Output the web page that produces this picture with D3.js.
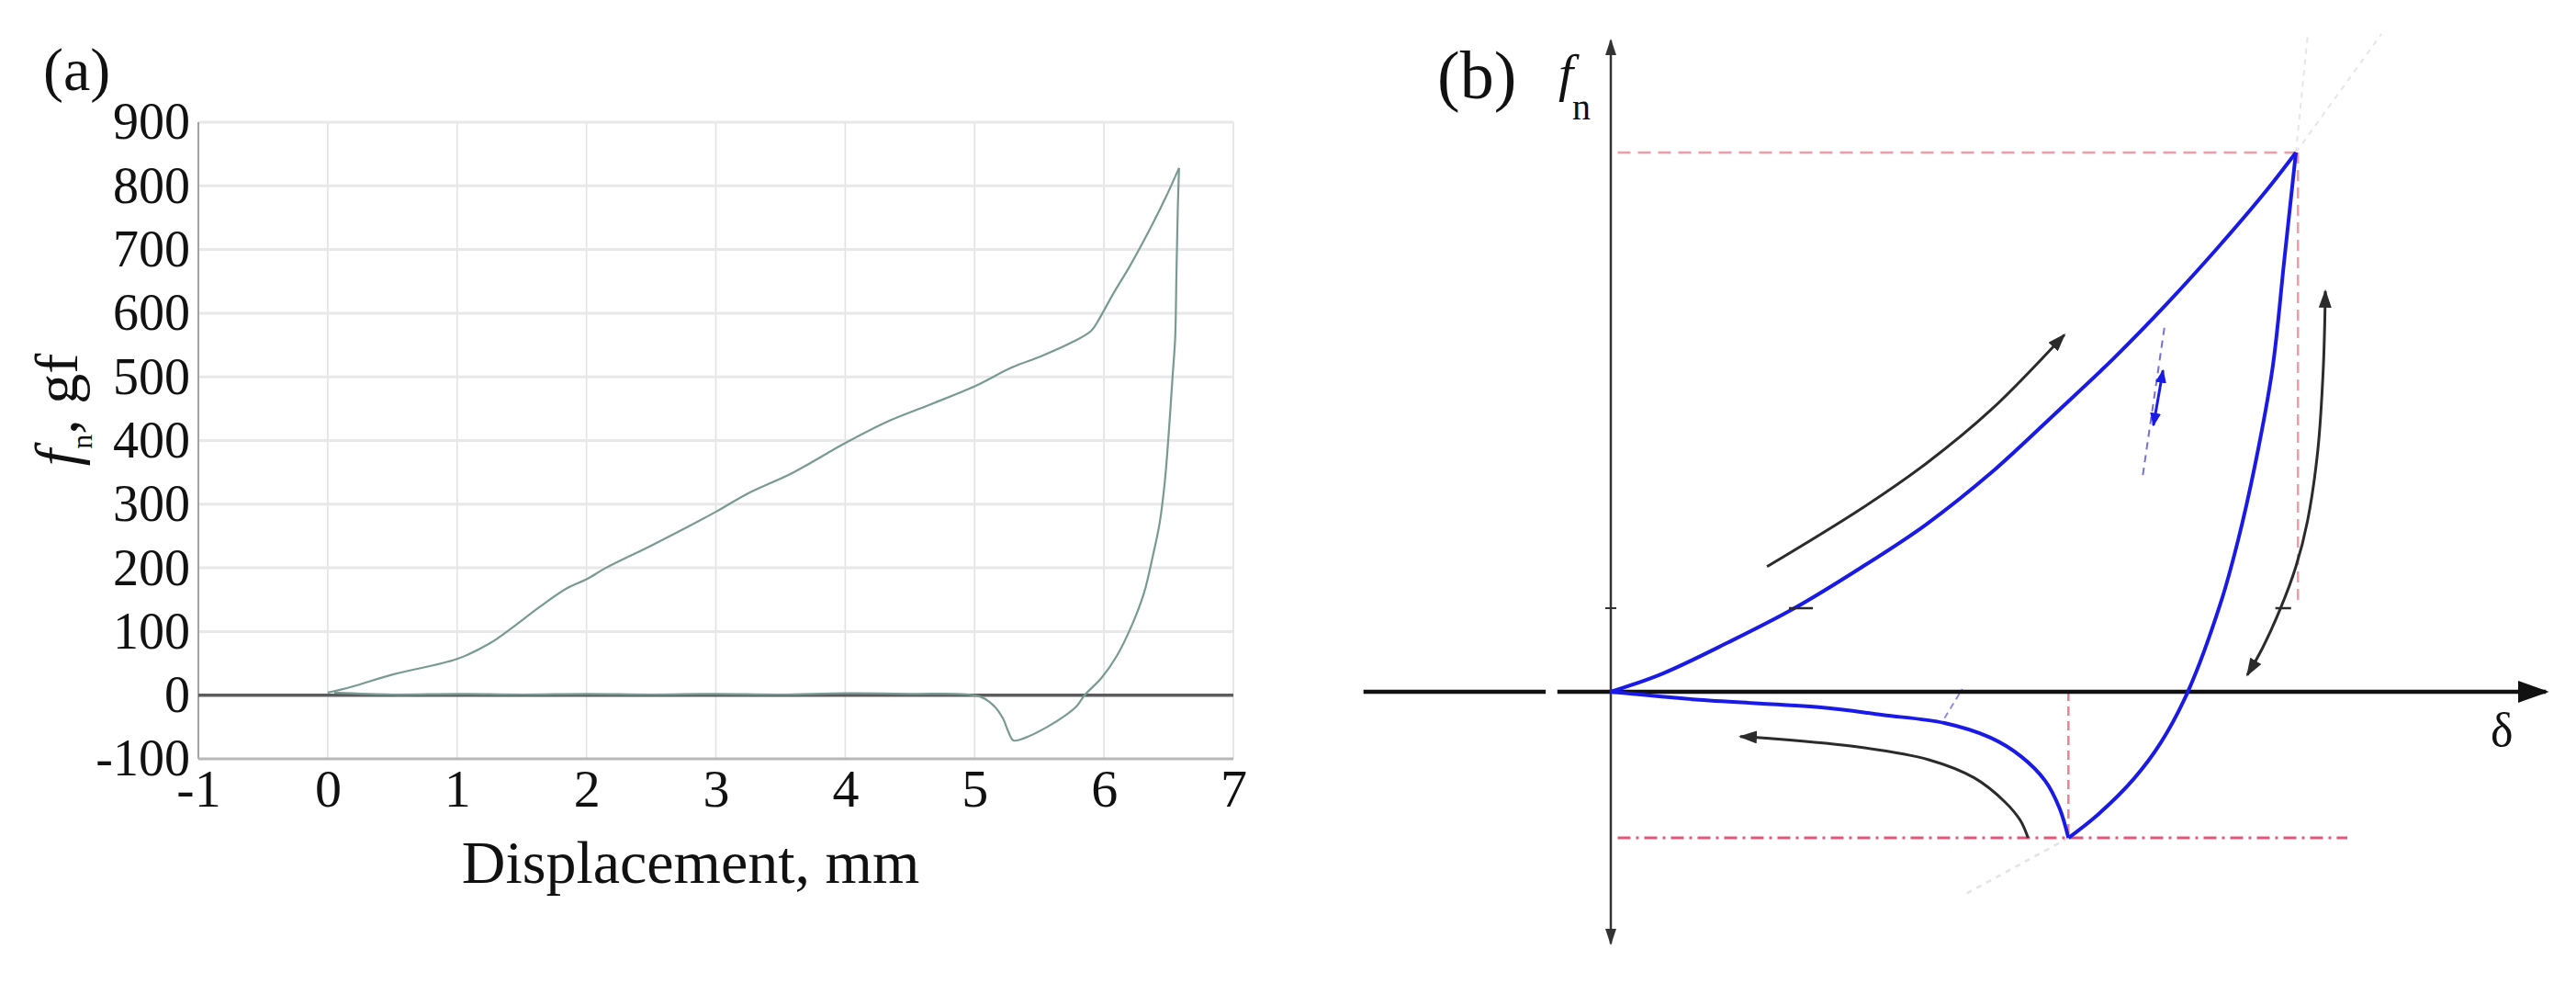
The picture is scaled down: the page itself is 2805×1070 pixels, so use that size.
<!DOCTYPE html>
<html>
<head>
<meta charset="utf-8">
<script src="https://cdn.jsdelivr.net/npm/d3@7"></script>
<style>
  body { margin: 0; background: #fff; }
  svg { display: block; font-family: "Liberation Serif", "Times New Roman", serif; }
</style>
</head>
<body>
<div id="chart"></div>
<script>
// ---- panel (a): measured force / displacement cycle ----
var xTicksA = [-1, 0, 1, 2, 3, 4, 5, 6, 7];
var yTicksA = [-100, 0, 100, 200, 300, 400, 500, 600, 700, 800, 900];

var loadDisp  = [0, 0.18, 0.51, 1.0, 1.25, 1.42, 1.64, 1.85, 2.0, 2.15, 2.51, 3.0, 3.24, 3.6, 4.0, 4.34, 4.65, 5.0, 5.29, 5.51, 5.76, 5.9, 5.96, 6.07, 6.2, 6.37, 6.48, 6.58];
var loadForce = [4, 13, 33, 57, 81, 105, 139, 168, 182, 200, 236, 288, 316, 350, 396, 431, 456, 485, 515, 532, 555, 572, 590, 630, 674, 738, 783, 828];

var unloadDisp  = [6.58, 6.57, 6.56, 6.55, 6.53, 6.50, 6.47, 6.43, 6.38, 6.31, 6.22, 6.10, 5.98, 5.85, 5.79, 5.70, 5.56, 5.39, 5.30, 5.26, 5.22, 5.15, 5.04, 4.5, 4.0, 3.5, 3.0, 2.5, 2.0, 1.5, 1.0, 0.5, 0.05];
var unloadForce = [828, 760, 660, 560, 500, 410, 335, 270, 221, 161, 112, 62, 27, 0, -17, -32, -50, -67, -71, -57, -37, -17, -2, 2, 3, 1, 2, 1, 2, 1, 2, 1, 4];

// ---- panel (b): schematic, in units of the peak (delta = 1, f = 1) ----
var loadDelta = [0, 0.076, 0.172, 0.268, 0.365, 0.460, 0.556, 0.653, 0.733, 0.812, 0.889, 0.956, 1.0];
var loadF     = [0, 0.034, 0.092, 0.155, 0.230, 0.310, 0.407, 0.521, 0.617, 0.720, 0.828, 0.928, 1.0];

var unloadDelta = [1.0, 0.983, 0.966, 0.942, 0.916, 0.890, 0.843, 0.803, 0.763, 0.709, 0.668];
var unloadF     = [1.0, 0.80, 0.601, 0.431, 0.283, 0.164, 0.002, -0.094, -0.162, -0.230, -0.271];

var detachDelta = [0.668, 0.655, 0.634, 0.598, 0.554, 0.487, 0.397, 0.307, 0.129, 0];
var detachF     = [-0.271, -0.216, -0.165, -0.119, -0.085, -0.058, -0.043, -0.029, -0.015, 0];

var arrowLoadDelta = [0.228, 0.365, 0.460, 0.556, 0.662];
var arrowLoadF     = [0.232, 0.339, 0.423, 0.524, 0.662];
var arrowUnloadDelta = [1.043, 1.040, 1.032, 1.017, 1.0, 0.977, 0.950, 0.929];
var arrowUnloadF     = [0.743, 0.601, 0.448, 0.317, 0.232, 0.153, 0.078, 0.031];
var arrowDetachDelta = [0.609, 0.598, 0.575, 0.531, 0.464, 0.353, 0.218, 0.189];
var arrowDetachF     = [-0.271, -0.239, -0.204, -0.160, -0.126, -0.101, -0.085, -0.083];

var fMax = 1, deltaMax = 1, fMin = -0.271, deltaMin = 0.668;
var deltaAxis = [-0.361, 1.365], fAxis = [-0.467, 1.208];
var tickF = 0.155;

var W = 2805, H = 1070;
var svg = d3.select('#chart').append('svg').attr('width', W).attr('height', H);
var defs = svg.append('defs');

function addMarker(id, color, len, wid) {
    defs.append('marker')
        .attr('id', id)
        .attr('viewBox', '0 0 10 10')
        .attr('refX', 9).attr('refY', 5)
        .attr('markerWidth', len).attr('markerHeight', wid)
        .attr('markerUnits', 'userSpaceOnUse')
        .attr('preserveAspectRatio', 'none')
        .attr('orient', 'auto-start-reverse')
        .append('path').attr('d', 'M0,0L10,5L0,10Z').attr('fill', color);
}
addMarker('axisH', '#111', 34, 24);
addMarker('axisV', '#333', 18, 12);
addMarker('arr', '#2b2b2b', 20, 14);
addMarker('arrBlue', '#1a1ae6', 15, 12);

drawPanelA();
drawPanelB();

function drawPanelA() {
    var x = d3.scaleLinear().domain([-1, 7]).range([216, 1343]);
    var y = d3.scaleLinear().domain([-100, 900]).range([826, 133]);
    var g = svg.append('g').attr('class', 'panel-a');

    // grid
    g.selectAll('.vgrid').data(xTicksA.slice(1)).enter().append('line')
        .attr('x1', function(d) { return x(d); }).attr('x2', function(d) { return x(d); })
        .attr('y1', y(-100)).attr('y2', y(900))
        .attr('stroke', '#e2e2e2').attr('stroke-width', 1.6);
    g.selectAll('.hgrid').data(yTicksA.filter(function(d) { return d > 0; })).enter().append('line')
        .attr('x1', x(-1)).attr('x2', x(7))
        .attr('y1', function(d) { return y(d); }).attr('y2', function(d) { return y(d); })
        .attr('stroke', '#e8e8e8').attr('stroke-width', 3);

    g.append('line').attr('x1', x(-1)).attr('x2', x(-1)).attr('y1', y(-100)).attr('y2', y(900))
        .attr('stroke', '#a3a3a3').attr('stroke-width', 2);
    g.append('line').attr('x1', x(-1)).attr('x2', x(7)).attr('y1', y(-100)).attr('y2', y(-100))
        .attr('stroke', '#b8b8b8').attr('stroke-width', 3);
    g.append('line').attr('x1', x(-1)).attr('x2', x(7)).attr('y1', y(0)).attr('y2', y(0))
        .attr('stroke', '#5c5c5c').attr('stroke-width', 3.5);

    // axes (labels only)
    var ax = g.append('g').attr('transform', 'translate(0,' + y(-100) + ')')
        .call(d3.axisBottom(x).tickValues(xTicksA).tickSize(0).tickPadding(11)
            .tickFormat(function(d) { return String(d); }));
    var ay = g.append('g').attr('transform', 'translate(' + x(-1) + ',0)')
        .call(d3.axisLeft(y).tickValues(yTicksA).tickSize(0).tickPadding(9)
            .tickFormat(function(d) { return String(d); }));
    [ax, ay].forEach(function(a) {
        a.select('.domain').remove();
        a.selectAll('text').attr('fill', '#111')
            .attr('font-family', '"Liberation Serif", serif');
    });
    ax.selectAll('text').attr('font-size', 58);
    ay.selectAll('text').attr('font-size', 56);

    var line = d3.line()
        .x(function(d) { return x(d[0]); })
        .y(function(d) { return y(d[1]); })
        .curve(d3.curveCatmullRom.alpha(0.5));
    g.append('path').datum(d3.zip(loadDisp, loadForce))
        .attr('d', line).attr('fill', 'none')
        .attr('stroke', '#789a92').attr('stroke-width', 2.2);
    g.append('path').datum(d3.zip(unloadDisp, unloadForce))
        .attr('d', line).attr('fill', 'none')
        .attr('stroke', '#789a92').attr('stroke-width', 2.2);

    g.append('text').attr('x', 752).attr('y', 961).attr('text-anchor', 'middle')
        .attr('font-size', 66).attr('fill', '#111').text('Displacement, mm');

    var yl = g.append('text').attr('transform', 'translate(84,446) rotate(-90)')
        .attr('text-anchor', 'middle').attr('font-size', 66).attr('fill', '#111');
    yl.append('tspan').attr('font-style', 'italic').text('f');
    yl.append('tspan').attr('font-size', 32).attr('dy', 16).text('n');
    yl.append('tspan').attr('dy', -16).text(', gf');

    g.append('text').attr('x', 47).attr('y', 98).attr('font-size', 66).attr('fill', '#111').text('(a)');
}

function drawPanelB() {
    var x = d3.scaleLinear().domain([0, 1]).range([1754, 2500]);
    var y = d3.scaleLinear().domain([0, 1]).range([753, 166]);
    var g = svg.append('g').attr('class', 'panel-b');

    function seg(x1, y1, x2, y2) {
        return g.append('line').attr('x1', x(x1)).attr('y1', y(y1)).attr('x2', x(x2)).attr('y2', y(y2));
    }

    // faint construction lines
    seg(deltaMax, fMax, 1.017, 1.215).attr('stroke', '#e6e6e6').attr('stroke-width', 2).attr('stroke-dasharray', '6,6');
    seg(deltaMax, fMax, 1.125, 1.22).attr('stroke', '#e6e6e6').attr('stroke-width', 2).attr('stroke-dasharray', '6,6');
    seg(deltaMin, fMin, 0.518, -0.375).attr('stroke', '#e4e4e4').attr('stroke-width', 2.5).attr('stroke-dasharray', '6,6');
    seg(0.487, -0.049, 0.513, 0.005).attr('stroke', '#8c8ce6').attr('stroke-width', 2).attr('stroke-dasharray', '7,5');

    // red guides
    seg(0.01, fMax, deltaMax, fMax).attr('stroke', '#f29aa6').attr('stroke-width', 2.5).attr('stroke-dasharray', '14,8');
    seg(1.003, fMax, 1.003, 0.17).attr('stroke', '#f29aa6').attr('stroke-width', 2.5).attr('stroke-dasharray', '12,7');
    seg(deltaMin, 0, deltaMin, fMin).attr('stroke', '#e58392').attr('stroke-width', 2.5).attr('stroke-dasharray', '10,6');
    seg(0.01, fMin, 1.075, fMin).attr('stroke', '#e0577a').attr('stroke-width', 3).attr('stroke-dasharray', '14,6,3,6');

    // axes
    seg(deltaAxis[0], 0, -0.095, 0).attr('stroke', '#111').attr('stroke-width', 4.5);
    seg(-0.078, 0, deltaAxis[1], 0).attr('stroke', '#111').attr('stroke-width', 4.5)
        .attr('marker-end', 'url(#axisH)');
    seg(0, fAxis[0], 0, fAxis[1]).attr('stroke', '#333').attr('stroke-width', 2.5)
        .attr('marker-start', 'url(#axisV)').attr('marker-end', 'url(#axisV)');
    g.append('line').attr('x1', x(0) - 6).attr('x2', x(0) + 6).attr('y1', y(tickF)).attr('y2', y(tickF))
        .attr('stroke', '#333').attr('stroke-width', 2);

    var line = d3.line()
        .x(function(d) { return x(d[0]); })
        .y(function(d) { return y(d[1]); })
        .curve(d3.curveCatmullRom.alpha(0.5));

    // blue model curves
    [[loadDelta, loadF], [unloadDelta, unloadF], [detachDelta, detachF]].forEach(function(c) {
        g.append('path').datum(d3.zip(c[0], c[1])).attr('d', line)
            .attr('fill', 'none').attr('stroke', '#1a1ae6').attr('stroke-width', 4);
    });

    // black direction arrows
    g.append('path').datum(d3.zip(arrowLoadDelta, arrowLoadF)).attr('d', line)
        .attr('fill', 'none').attr('stroke', '#2b2b2b').attr('stroke-width', 3)
        .attr('marker-end', 'url(#arr)');
    g.append('path').datum(d3.zip(arrowUnloadDelta, arrowUnloadF)).attr('d', line)
        .attr('fill', 'none').attr('stroke', '#2b2b2b').attr('stroke-width', 3)
        .attr('marker-start', 'url(#arr)').attr('marker-end', 'url(#arr)');
    g.append('path').datum(d3.zip(arrowDetachDelta, arrowDetachF)).attr('d', line)
        .attr('fill', 'none').attr('stroke', '#2b2b2b').attr('stroke-width', 3)
        .attr('marker-end', 'url(#arr)');

    // small marks at f = tickF
    seg(0.260, tickF, 0.295, tickF).attr('stroke', '#2b2b2b').attr('stroke-width', 2.5);
    seg(0.970, tickF, 0.993, tickF).attr('stroke', '#2b2b2b').attr('stroke-width', 2.5);

    // blue double arrow
    seg(0.808, 0.675, 0.776, 0.397).attr('stroke', '#7070e8').attr('stroke-width', 2).attr('stroke-dasharray', '8,6');
    seg(0.806, 0.596, 0.792, 0.494).attr('stroke', '#1a1ae6').attr('stroke-width', 3)
        .attr('marker-start', 'url(#arrBlue)').attr('marker-end', 'url(#arrBlue)');

    // labels
    g.append('text').attr('x', 1565).attr('y', 107).attr('font-size', 74).attr('fill', '#111').text('(b)');
    g.append('text').attr('x', 1697).attr('y', 99).attr('font-size', 58).attr('font-style', 'italic')
        .attr('fill', '#111').text('f');
    g.append('text').attr('x', 1712).attr('y', 130).attr('font-size', 40).attr('fill', '#111').text('n');
    g.append('text').attr('x', 2712).attr('y', 812).attr('font-size', 52).attr('fill', '#111').text('δ');
}
</script>
</body>
</html>
